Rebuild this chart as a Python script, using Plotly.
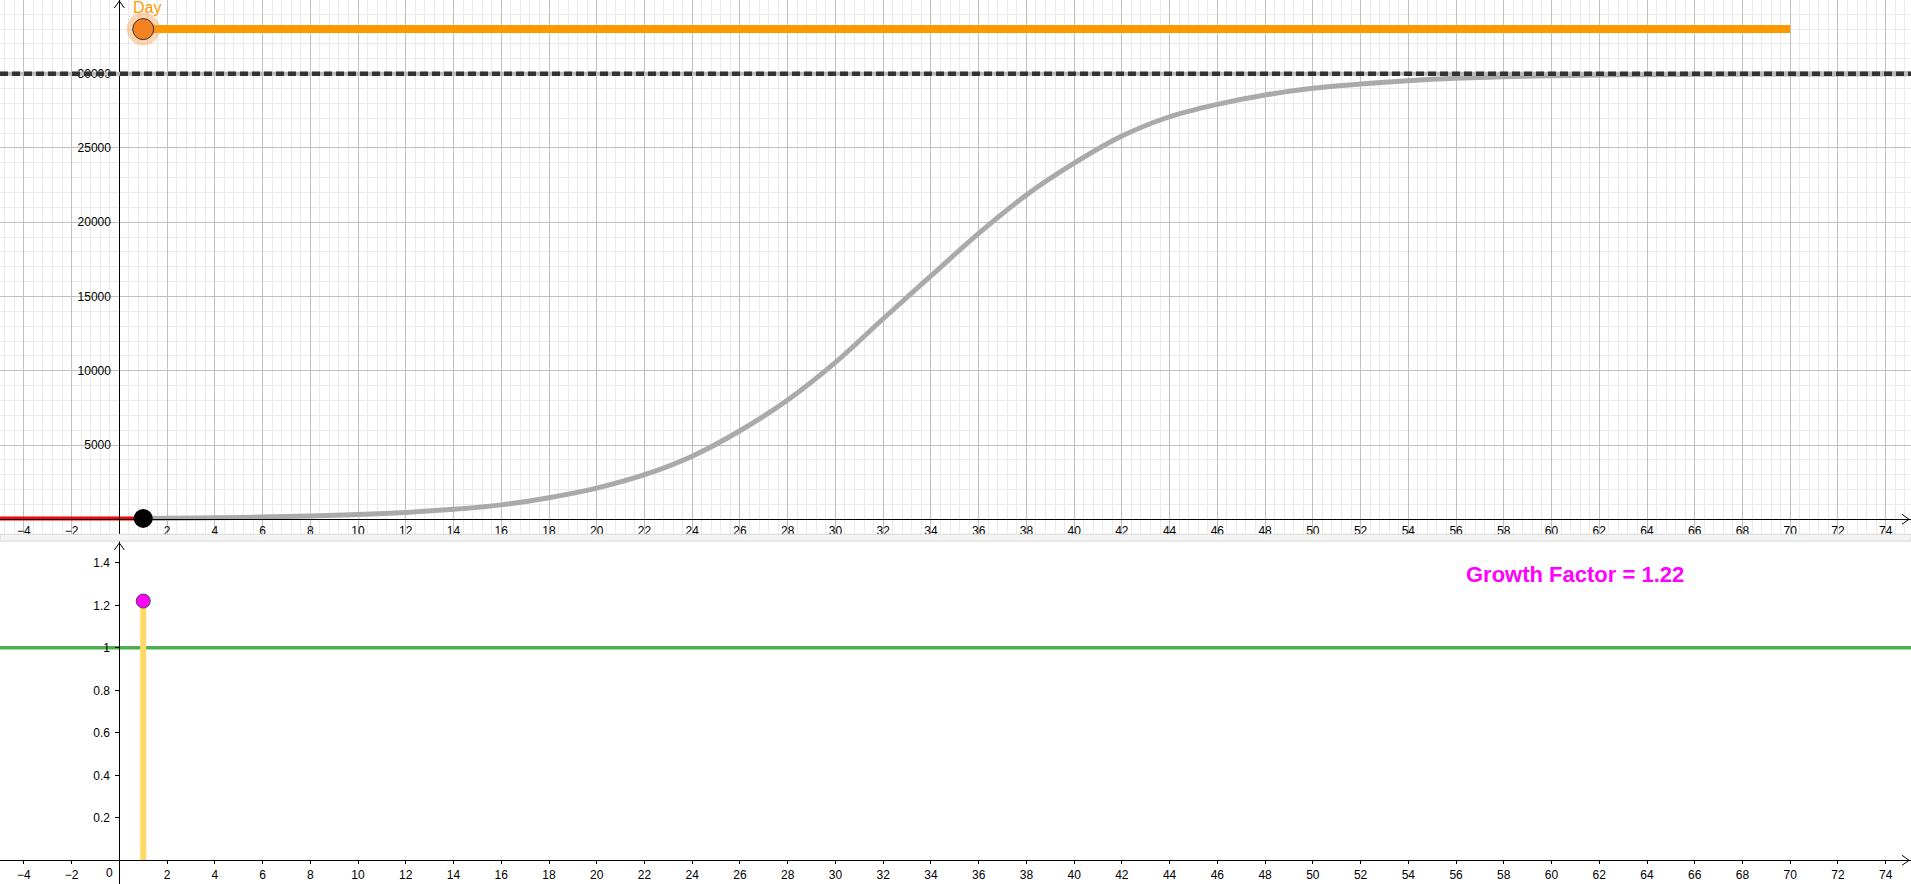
import plotly.graph_objects as go

## Slider state and the growth factor shown for that day
day = 1
growth_factor = 1.22
capacity = 30000
slider_days = [1, 70]
slider_level = 33000

## Logistic curve (day -> total)
curve_days = [1, 2, 4, 6, 8, 10, 12, 14, 16, 18, 20, 22, 24, 26, 28, 30, 32, 34,
              36, 38, 40, 42, 44, 46, 48, 50, 52, 54, 56, 58, 60, 62, 64, 66, 68,
              70, 72, 75]
curve_totals = [60, 73, 100, 150, 215, 315, 460, 670, 970, 1455, 2100, 3000,
                4250, 5960, 8030, 10560, 13500, 16380, 19250, 21830, 23970, 25800,
                27100, 27935, 28565, 29015, 29305, 29530, 29690, 29790, 29860,
                29905, 29935, 29955, 29970, 29980, 29986, 29992]

## Tick labels
x_ticks = [v for v in range(-4, 75, 2) if v != 0]
top_y_ticks = [5000, 10000, 15000, 20000, 25000, 30000]
bottom_y_ticks = [0.2, 0.4, 0.6, 0.8, 1, 1.2, 1.4]

## Graphics view (two stacked panels)
x_range = [-5.0, 75.06]
top_y_range = [-1010, 34960]
bottom_y_range = [-0.1115, 1.5026]
top_domain = [0.3956, 1]
bottom_domain = [0, 0.388]

FONT = "Liberation Sans, Arial, sans-serif"


def frac(value, rng, domain):
    ## paper fraction of a data value inside an axis domain
    return domain[0] + (value - rng[0]) / (rng[1] - rng[0]) * (domain[1] - domain[0])


def label(v):
    return str(v).replace("-", "\u2212")


day_total = curve_totals[curve_days.index(day)]
y_axis_pos = frac(0, x_range, [0, 1])

fig = go.Figure()

## Top panel: total vs day
fig.add_trace(go.Scatter(x=curve_days, y=curve_totals, mode='lines',
                         line=dict(color='rgb(170,170,170)', width=5, shape='spline',
                                   smoothing=1),
                         xaxis='x', yaxis='y'))
fig.add_trace(go.Scatter(x=[x_range[0], day], y=[day_total, day_total], mode='lines',
                         line=dict(color='rgb(255,0,0)', width=4),
                         xaxis='x', yaxis='y'))
fig.add_trace(go.Scatter(x=[day], y=[day_total], mode='markers',
                         marker=dict(color='black', size=19),
                         xaxis='x', yaxis='y'))

## Day slider
fig.add_trace(go.Scatter(x=slider_days, y=[slider_level, slider_level], mode='lines',
                         line=dict(color='rgb(255,153,0)', width=8),
                         xaxis='x', yaxis='y'))
fig.add_trace(go.Scatter(x=[day], y=[slider_level], mode='markers',
                         marker=dict(color='rgba(245,150,60,0.4)', size=33),
                         xaxis='x', yaxis='y'))
fig.add_trace(go.Scatter(x=[day], y=[slider_level], mode='markers',
                         marker=dict(color='rgb(245,130,32)', size=21,
                                     line=dict(color='rgb(50,50,50)', width=1)),
                         xaxis='x', yaxis='y'))

## Bottom panel: growth factor
fig.add_trace(go.Scatter(x=[day, day], y=[0, growth_factor], mode='lines',
                         line=dict(color='rgb(255,217,102)', width=6),
                         xaxis='x2', yaxis='y2'))
fig.add_trace(go.Scatter(x=[day], y=[growth_factor], mode='markers',
                         marker=dict(color='rgb(255,0,255)', size=14,
                                     line=dict(color='rgb(70,70,70)', width=1)),
                         xaxis='x2', yaxis='y2'))

shapes = [
    ## panel separator
    dict(type='rect', xref='paper', yref='paper', x0=0, x1=1,
         y0=bottom_domain[1], y1=top_domain[0],
         fillcolor='rgb(244,244,244)', line=dict(color='rgb(216,216,216)', width=1)),
    ## carrying capacity
    dict(type='line', xref='x domain', yref='y', x0=0, x1=1, y0=capacity, y1=capacity,
         line=dict(color='rgb(185,185,185)', width=4)),
    dict(type='line', xref='x domain', yref='y', x0=0, x1=1, y0=capacity, y1=capacity,
         line=dict(color='rgb(51,51,51)', width=4.5, dash='8px,4px')),
    ## growth factor = 1
    dict(type='line', xref='x2 domain', yref='y2', x0=0, x1=1, y0=1, y1=1, layer='below',
         line=dict(color='rgb(76,175,80)', width=3.5)),
]

## axis arrow heads
arrow = dict(type='path', xsizemode='pixel', ysizemode='pixel',
             line=dict(color='black', width=1))
shapes += [
    dict(arrow, xref='x', yref='y', xanchor=x_range[1], yanchor=0,
         path='M -9 5 L -2 0 L -9 -5'),
    dict(arrow, xref='x', yref='y', xanchor=0, yanchor=top_y_range[1],
         path='M -5 -8 L 0 -1 L 5 -8'),
    dict(arrow, xref='x2', yref='y2', xanchor=x_range[1], yanchor=0,
         path='M -9 5 L -2 0 L -9 -5'),
    dict(arrow, xref='x2', yref='y2', xanchor=0, yanchor=bottom_y_range[1],
         path='M -5 -9 L 0 -2 L 5 -9'),
]

annotations = [
    dict(x=day, y=slider_level, xref='x', yref='y', text='Day', showarrow=False,
         xanchor='left', yanchor='bottom', xshift=-12, yshift=11,
         font=dict(family=FONT, size=16, color='rgb(255,153,0)')),
    dict(x=61.0, y=1.344, xref='x2', yref='y2',
         text=f'Growth Factor = {growth_factor:.2f}', showarrow=False,
         font=dict(family=FONT, size=22, color='rgb(255,0,255)', weight='bold')),
    dict(x=0, y=0, xref='x2', yref='y2', text='0', showarrow=False,
         xanchor='right', yanchor='top', xshift=-4, yshift=-4,
         font=dict(family=FONT, size=12, color='black')),
]

tick_font = dict(family=FONT, size=12, color='black')
common_x = dict(range=x_range, domain=[0, 1], anchor='free', showline=True,
                linecolor='black', linewidth=1, zeroline=False,
                tickvals=x_ticks, ticktext=[label(v) for v in x_ticks],
                tickfont=tick_font, fixedrange=True)

fig.update_layout(
    width=1911, height=884,
    margin=dict(l=0, r=0, t=0, b=0),
    paper_bgcolor='white', plot_bgcolor='white',
    showlegend=False,
    xaxis=dict(common_x, position=frac(0, top_y_range, top_domain),
               showgrid=True, gridcolor='rgb(192,192,192)', gridwidth=1, ticks='',
               minor=dict(dtick=0.4, tick0=0, showgrid=True,
                          gridcolor='rgb(234,234,234)', gridwidth=1)),
    yaxis=dict(range=top_y_range, domain=top_domain, anchor='free', position=y_axis_pos,
               showline=True, linecolor='black', linewidth=1, zeroline=False,
               tickvals=top_y_ticks, ticktext=[str(v) for v in top_y_ticks],
               tickfont=tick_font, ticks='', ticklabelstandoff=6,
               showgrid=True, gridcolor='rgb(192,192,192)', gridwidth=1,
               minor=dict(dtick=1000, tick0=0, showgrid=True,
                          gridcolor='rgb(234,234,234)', gridwidth=1)),
    xaxis2=dict(common_x, position=frac(0, bottom_y_range, bottom_domain),
                showgrid=False, ticks='outside', ticklen=3, tickcolor='black'),
    yaxis2=dict(range=bottom_y_range, domain=bottom_domain, anchor='free',
                position=y_axis_pos, showline=True, linecolor='black', linewidth=1,
                zeroline=False, showgrid=False, tickvals=bottom_y_ticks,
                tickfont=tick_font, ticks='outside', ticklen=4, tickcolor='black',
                ticklabelstandoff=3),
    shapes=shapes,
    annotations=annotations,
)

fig.write_html("out.html", config={'displayModeBar': False},
               post_script="document.body.style.margin='0';document.body.style.overflow='hidden';")
